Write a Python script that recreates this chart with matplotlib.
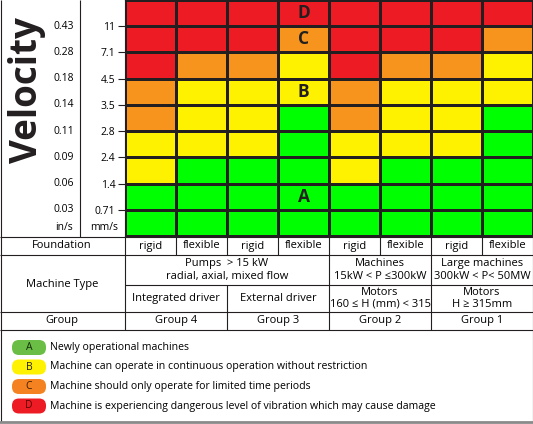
import numpy as np
import matplotlib
matplotlib.use("Agg")
import matplotlib.pyplot as plt
import matplotlib.transforms as mtransforms
from matplotlib.colors import ListedColormap
from matplotlib.patches import FancyBboxPatch

plt.rcParams["font.family"] = ["Open Sans", "DejaVu Sans"]

# velocity levels (zone borders)
mm_s = [0.71, 1.4, 2.4, 2.8, 3.5, 4.5, 7.1, 11]
in_s = ["0.03", "0.06", "0.09", "0.11", "0.14", "0.18", "0.28", "0.43"]

# one column per foundation / group
foundation = ["rigid", "flexible"] * 4
lim_ab = [1.4, 2.4, 2.4, 3.5, 1.4, 2.4, 2.4, 3.5]
lim_bc = [2.8, 4.5, 4.5, 7.1, 2.8, 4.5, 4.5, 7.1]
lim_cd = [4.5, 7.1, 7.1, 11, 4.5, 7.1, 7.1, 11]

groups = ["Group 4", "Group 3", "Group 2", "Group 1"]
type_top = ["Pumps  > 15 kW\nradial, axial, mixed flow",
            "Machines\n15kW < P \u2264300kW",
            "Large machines\n300kW < P< 50MW"]
type_bottom = ["Integrated driver", "External driver",
               "Motors\n160 \u2264 H (mm) < 315", "Motors\nH \u2265 315mm"]

zone_names = ["A", "B", "C", "D"]
zone_desc = ["Newly operational machines",
             "Machine can operate in continuous operation without restriction",
             "Machine should only operate for limited time periods",
             "Machine is experiencing dangerous level of vibration which may cause damage"]
zone_colors = ["#00ff00", "#fff200", "#f7941d", "#ed1c24"]
pill_colors = ["#6abd45", "#fff200", "#f58220", "#ed1c24"]
pill_text = ["#16300c", "#231f20", "#3a1a00", "#5a0000"]
letter_rows = [1, 5, 7, 8]   # row (from bottom) where A..D are written
letter_col = 3

W, H = 533, 424
LINE = "#231f20"

fig = plt.figure(figsize=(W / 100, H / 100), dpi=100)
base = fig.add_axes([0, 0, 1, 1])
base.set_xlim(0, W)
base.set_ylim(H, 0)
base.axis("off")

# ---- colour grid
gx0, gx1, gy1 = 125, 533, 236
ax = fig.add_axes([gx0 / W, (H - gy1) / H, (gx1 - gx0) / W, gy1 / H])
ncol = len(foundation)
nrow = len(mm_s) + 1
lower = np.array([0.0] + mm_s)
zones = np.zeros((nrow, ncol))
for c in range(ncol):
    lims = np.array([lim_ab[c], lim_bc[c], lim_cd[c]])
    zones[:, c] = [(lims <= lo).sum() for lo in lower]

ax.pcolormesh(np.arange(ncol + 1), np.arange(nrow + 1), zones,
              cmap=ListedColormap(zone_colors), vmin=-0.5, vmax=3.5,
              edgecolors=LINE, linewidth=0.8)
ax.set_xlim(0, ncol)
ax.set_ylim(0, nrow)
ax.set_xticks([])
ax.set_yticks(np.arange(1, nrow))
ax.set_yticklabels([f"{v:g}" for v in mm_s], fontsize=7.5)
ax.tick_params(axis="y", length=5, width=0.8, color=LINE, pad=2)
for s in ax.spines.values():
    s.set_color(LINE)
    s.set_linewidth(0.8)

for name, r in zip(zone_names, letter_rows):
    ax.text(letter_col + 0.5, r + 0.5, name, ha="center", va="center",
            fontsize=12.5, fontweight="bold", color=LINE)

# in/s labels next to the mm/s ticks
tr = mtransforms.blended_transform_factory(base.transData, ax.transData)
for i, lab in enumerate(in_s):
    base.text(64, i + 1, lab, transform=tr, ha="center", va="center", fontsize=7.5)
base.text(64, 228, "in/s", ha="center", va="center", fontsize=7.5)
base.text(118, 228, "mm/s", ha="right", va="center", fontsize=7.5)
base.text(27, 90, "Velocity", rotation=90, ha="center", va="center",
          fontsize=26.5, fontweight="bold", color=LINE)

# ---- table
def hline(y, x0=0, x1=W - 0.5):
    base.plot([x0, x1], [y, y], color=LINE, lw=0.8, solid_capstyle="butt")

def vline(x, y0, y1):
    base.plot([x, x], [y0, y1], color=LINE, lw=0.8, solid_capstyle="butt")

colw = (gx1 - gx0) / ncol
vline(0.5, 0, 422)
vline(W - 0.5, 0, 422)
vline(80, 0, 237)
hline(237)
hline(255)
hline(285, gx0)
hline(312)
hline(330)
vline(gx0, 237, 330)
for c in range(1, ncol):
    vline(gx0 + c * colw, 237, 255)
vline(gx0 + 2 * colw, 285, 330)
vline(gx0 + 4 * colw, 255, 330)
vline(gx0 + 6 * colw, 255, 330)

fs = 8
base.text(62, 246, "Foundation", ha="center", va="center", fontsize=fs)
for c, f in enumerate(foundation):
    base.text(gx0 + (c + 0.5) * colw, 246, f, ha="center", va="center", fontsize=fs)
base.text(62, 284, "Machine Type", ha="center", va="center", fontsize=fs)
top_span = [(0, 4), (4, 6), (6, 8)]
for (a, b), t in zip(top_span, type_top):
    base.text(gx0 + (a + b) / 2 * colw, 270, t, ha="center", va="center",
              fontsize=fs, linespacing=1.15)
for g, t in enumerate(type_bottom):
    base.text(gx0 + (2 * g + 1) * colw, 298.5, t, ha="center", va="center",
              fontsize=fs, linespacing=1.1)
base.text(62, 321, "Group", ha="center", va="center", fontsize=fs)
for g, t in enumerate(groups):
    base.text(gx0 + (2 * g + 1) * colw, 321, t, ha="center", va="center", fontsize=fs)

# ---- legend
base.plot([0, W], [421.5, 421.5], color="#8a8a8a", lw=2)
for i, (n, d) in enumerate(zip(zone_names, zone_desc)):
    yc = 347.5 + i * 19.5
    base.add_patch(FancyBboxPatch((12, yc - 7.5), 34, 15,
                                  boxstyle="round,pad=0,rounding_size=7",
                                  fc=pill_colors[i], ec="none"))
    base.text(29, yc, n, ha="center", va="center", fontsize=7.5, color=pill_text[i])
    base.text(50, yc, d, ha="left", va="center", fontsize=7.6)

fig.savefig("out.png", dpi=100, facecolor="white")
